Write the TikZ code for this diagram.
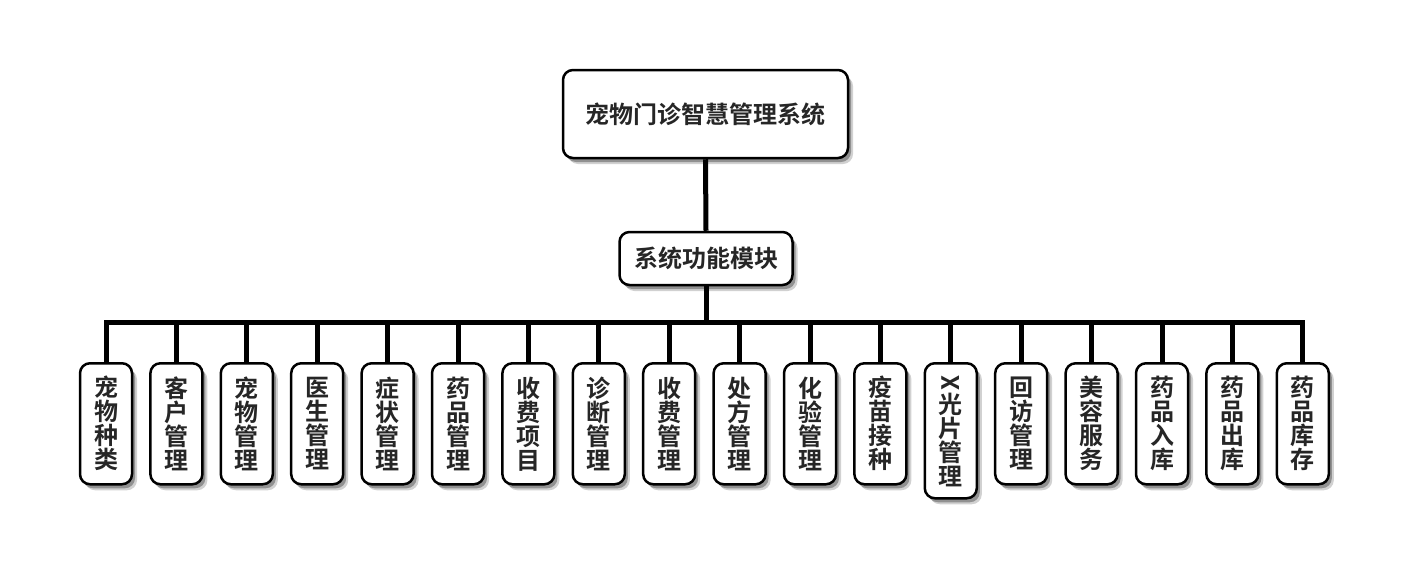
\documentclass[tikz,border=0pt]{standalone}
\usepackage{fontspec}
\newfontfamily\cjk{Noto Sans CJK SC Bold}
\usetikzlibrary{shadows}
\begin{document}
\begin{tikzpicture}[x=1pt,y=-1pt,
  shad/.style={drop shadow={shadow xshift=5pt,shadow yshift=-6pt,opacity=0.18,fill=black},
               drop shadow={shadow xshift=3pt,shadow yshift=-4pt,opacity=0.3,fill=black}},
  boxstyle/.style={draw=black,line width=2.5pt,rounded corners=10pt,fill=white,shad,
    font=\cjk\fontsize{24}{24}\selectfont,text=black!85,inner sep=0pt,align=center},
  leaf/.style={boxstyle,minimum width=52pt,minimum height=121pt,anchor=north},
  conn/.style={line width=5pt,draw=black,line join=miter}]
\fill[white] (0,0) rectangle (1409,576);
\useasboundingbox (0,0) rectangle (1409,576);
\node[boxstyle,minimum width=285pt,minimum height=88pt] (top) at (705.5,114) {宠物门诊智慧管理系统};
\node[boxstyle,minimum width=173pt,minimum height=53pt] (mid) at (706,258.5) {系统功能模块};
\coordinate (bus) at (706,322);
\foreach \i/\t in {1/{宠\\物\\种\\类},2/{客\\户\\管\\理},3/{宠\\物\\管\\理},4/{医\\生\\管\\理},
  5/{症\\状\\管\\理},6/{药\\品\\管\\理},7/{收\\费\\项\\目},8/{诊\\断\\管\\理},9/{收\\费\\管\\理},
  10/{处\\方\\管\\理},11/{化\\验\\管\\理},12/{疫\\苗\\接\\种},14/{回\\访\\管\\理},
  15/{美\\容\\服\\务},16/{药\\品\\入\\库},17/{药\\品\\出\\库},18/{药\\品\\库\\存}}{
  \node[leaf] (l\i) at ({106+70.4*(\i-1)},362) {\t};
}
\node[leaf,minimum height=135pt] (l13) at ({106+70.4*12},362) {\rotatebox{90}{X}\\[-1pt]光\\片\\管\\理};
\draw[conn] (top.south) -- (mid.north);
\draw[conn] (mid.south) -- (bus);
\foreach \i in {1,...,18}{
  \draw[conn] (bus) -| (l\i.north);
}
\end{tikzpicture}
\end{document}
